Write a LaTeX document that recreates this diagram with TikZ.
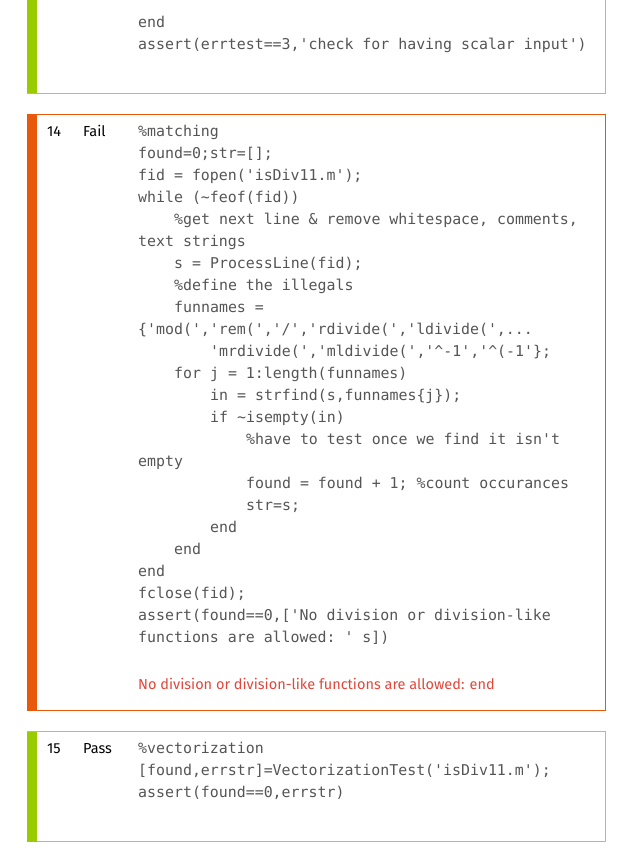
\documentclass[tikz,border=0pt]{standalone}
\usepackage{fontspec}
\setmainfont{Fira Sans}
\setmonofont{DejaVu Sans Mono}
\definecolor{grn}{HTML}{99CC00}
\definecolor{org}{HTML}{E8590C}
\definecolor{brd}{HTML}{B4B4B4}
\definecolor{codec}{HTML}{555555}
\definecolor{msg}{HTML}{E0463A}
\begin{document}
\begin{tikzpicture}[x=1pt,y=-1pt,
  code/.style={anchor=base west,inner sep=0,font=\ttfamily\fontsize{14.9}{16}\selectfont,text=codec},
  lab/.style={anchor=base west,inner sep=0,font=\fontsize{14.5}{16}\selectfont,text=black}]
\useasboundingbox (0,0) rectangle (620,848);
% top box
\draw[brd] (27,-5) -- (605,-5) -- (605,93.5) -- (27,93.5);
\fill[grn] (27,-5) rectangle (37,93.5);
\node[code] (t1) at (138,28) {end};
\node[code] (t2) at (138,50) {assert(errtest==3,'check for having scalar input')};
% fail box
\draw[org] (27,114.5) rectangle (605,710.5);
\fill[org] (27,114.5) rectangle (37,710.5);
\node[lab] (n14) at (47,136) {14};
\node[lab] (f14) at (83,136) {Fail};
\foreach \ind/\row/\txt in {
0/0/{\%matching},
0/1/{found=0;str=[];},
0/2/{fid = fopen('isDiv11.m');},
0/3/{while (\textasciitilde feof(fid))},
4/4/{\%get next line \& remove whitespace, comments,},
0/5/{text strings},
4/6/{s = ProcessLine(fid);},
4/7/{\%define the illegals},
4/8/{funnames =},
0/9/{\{'mod(','rem(','/','rdivide(','ldivide(',...},
8/10/{'mrdivide(','mldivide(','\textasciicircum-1','\textasciicircum(-1'\};},
4/11/{for j = 1:length(funnames)},
8/12/{in = strfind(s,funnames\{j\});},
8/13/{if \textasciitilde isempty(in)},
12/14/{\%have to test once we find it isn't},
0/15/{empty},
12/16/{found = found + 1; \%count occurances},
12/17/{str=s;},
8/18/{end},
4/19/{end},
0/20/{end},
0/21/{fclose(fid);},
0/22/{assert(found==0,['No division or division-like},
0/23/{functions are allowed: ' s])}}
  \node[code] (c\row) at ({138+\ind*9},{136+\row*22}) {\txt};
\node[lab,text=msg] (m14) at (138,689) {No division or division-like functions are allowed: end};
% pass box
\draw[brd] (27,731.5) rectangle (605,841.5);
\fill[grn] (27,731.5) rectangle (37,841.5);
\node[lab] (n15) at (47,753) {15};
\node[lab] (p15) at (83,753) {Pass};
\node[code] (q1) at (138,753) {\%vectorization};
\node[code] (q2) at (138,775) {[found,errstr]=VectorizationTest('isDiv11.m');};
\node[code] (q3) at (138,797) {assert(found==0,errstr)};
\end{tikzpicture}
\end{document}
